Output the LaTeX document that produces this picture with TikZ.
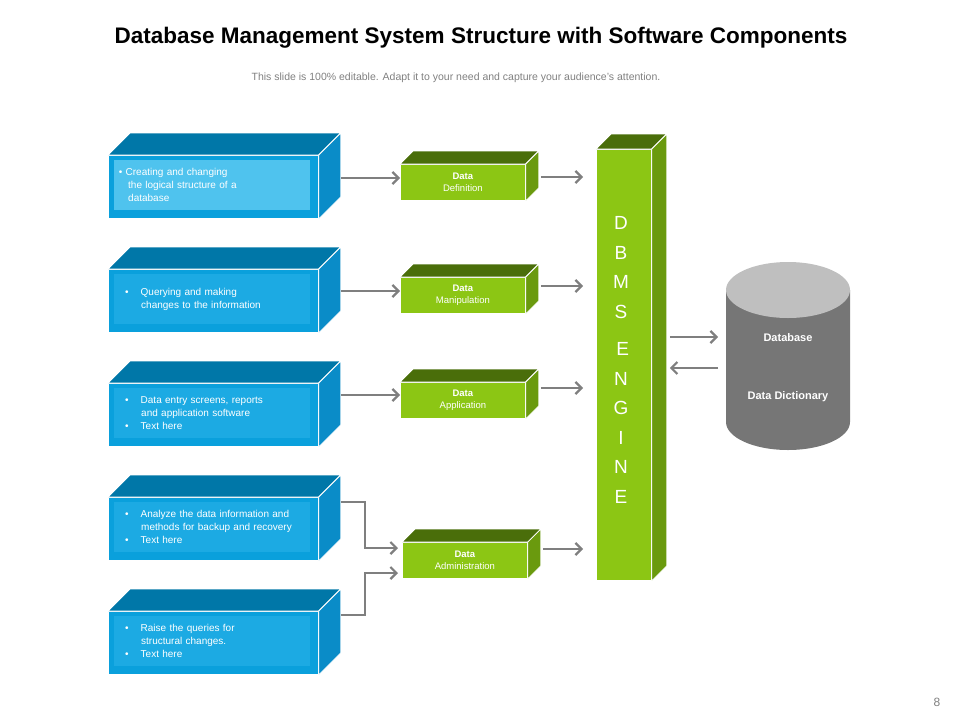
\documentclass[tikz,border=0pt]{standalone}
\usepackage{fontspec}
\setmainfont{Liberation Sans}
\usetikzlibrary{positioning,arrows.meta}
\definecolor{bluefront}{HTML}{0AA0DC}
\definecolor{bluetop}{HTML}{0077A8}
\definecolor{blueside}{HTML}{0A8CC8}
\definecolor{bluepanel}{HTML}{1CAAE3}
\definecolor{lightpanel}{HTML}{4FC3EE}
\definecolor{greenfront}{HTML}{8CC614}
\definecolor{greentop}{HTML}{4A6E0A}
\definecolor{greenside}{HTML}{6A9A0E}
\definecolor{arrowgray}{HTML}{7F7F7F}
\definecolor{cylgray}{HTML}{767676}
\definecolor{captop}{HTML}{BFBFBF}
\tikzset{
  bluebox/.style={draw=white, line width=0.8pt, fill=bluefront, minimum width=210, minimum height=63, inner sep=0, anchor=north west},
  panel/.style={fill=bluepanel, minimum width=196, minimum height=50, inner sep=0, text width=190, align=left, text=white, font=\fontsize{10}{13}\selectfont},
  greenbox/.style={draw=white, line width=0.8pt, fill=greenfront, minimum width=125, minimum height=36, inner sep=0, anchor=north west, text=white, align=center, font=\fontsize{9.5}{12}\selectfont},
  flow/.style={draw=arrowgray, line width=2.2pt, -{Straight Barb[length=6pt,width=12pt]}},
}
% top and right faces of a box
\newcommand{\faces}[4]{%
  \fill[#3, draw=white, line width=0.8pt] (#1.north west) -- ++(#2,-#2) -- ([shift={(#2,-#2)}]#1.north east) -- (#1.north east) -- cycle;
  \fill[#4, draw=white, line width=0.8pt] (#1.north east) -- ++(#2,-#2) -- ([shift={(#2,-#2)}]#1.south east) -- (#1.south east) -- cycle;
}
\begin{document}
\begin{tikzpicture}[x=1pt,y=-1pt]
\useasboundingbox (0,0) rectangle (960,720);

% Title
\node (title) at (481,38) {\fontsize{22.5}{26}\selectfont\bfseries Database Management System Structure with Software Components};
\node[text=gray, font=\fontsize{10.5}{12}\selectfont] (sub) at (456,78) {This slide is 100\% editable. Adapt it to your need and capture your audience’s attention.};
\node[text=gray, font=\fontsize{12}{14}\selectfont] (page) at (937,702) {8};

% Blue boxes
\node[bluebox] (b1) at (108,155) {};
\node[bluebox] (b2) at (108,269) {};
\node[bluebox] (b3) at (108,383) {};
\node[bluebox] (b4) at (108,497) {};
\node[bluebox] (b5) at (108,611) {};
\foreach \b in {b1,b2,b3,b4,b5}{\faces{\b}{22}{bluetop}{blueside}}
\node[panel, fill=lightpanel, anchor=north west] (p1) at (114,160) {\,• Creating and changing\\\hspace{1.1em}the logical structure of a\\\hspace{1.1em}database};
\node[panel, anchor=north west] (p2) at (114,274) {\hspace{0.8em}•\hspace{1.2em}Querying and making\\\hspace{2.4em}changes to the information};
\node[panel, anchor=north west] (p3) at (114,388) {\hspace{0.8em}•\hspace{1.2em}Data entry screens, reports\\\hspace{2.4em}and application software\\\hspace{0.8em}•\hspace{1.2em}Text here};
\node[panel, anchor=north west] (p4) at (114,502) {\hspace{0.8em}•\hspace{1.2em}Analyze the data information and\\\hspace{2.4em}methods for backup and recovery\\\hspace{0.8em}•\hspace{1.2em}Text here};
\node[panel, anchor=north west] (p5) at (114,616) {\hspace{0.8em}•\hspace{1.2em}Raise the queries for\\\hspace{2.4em}structural changes.\\\hspace{0.8em}•\hspace{1.2em}Text here};

% Green boxes
\node[greenbox] (g1) at (400,164) {\textbf{Data}\\Definition};
\node[greenbox] (g2) at (400,277) {\textbf{Data}\\Manipulation};
\node[greenbox] (g3) at (400,382) {\textbf{Data}\\Application};
\node[greenbox] (g4) at (402,542) {\textbf{Data}\\Administration};
\foreach \g in {g1,g2,g3,g4}{\faces{\g}{13}{greentop}{greenside}}

% DBMS engine
\node[greenbox, minimum width=55, minimum height=431] (eng) at (596,149) {};
\faces{eng}{15}{greentop}{greenside}
\node[text=white, font=\fontsize{19}{29.5}\selectfont, align=center] (engtxt) at (621,360) {D\\B\\M\\S\\[0.4em]\,E\\N\\G\\I\\N\\E};

% Database cylinder
\fill[cylgray] (726,290) -- (726,422) arc[start angle=180, end angle=360, x radius=62, y radius=-28] -- (850,290) -- cycle;
\fill[captop] (788,290) ellipse[x radius=62, y radius=28];
\coordinate (db) at (726,350);
\node[text=white, font=\fontsize{11}{13}\selectfont\bfseries] (dbl) at (788,338) {Database};
\node[text=white, font=\fontsize{11}{13}\selectfont\bfseries] (ddl) at (788,397) {Data Dictionary};

% Connectors
\coordinate (e1) at (583,177);
\coordinate (e2) at (583,286);
\coordinate (e3) at (583,388);
\coordinate (e4) at (583,549);
\draw[flow] ([xshift=22]b1.east |- 0,178) -- (g1.west |- 0,178);
\draw[flow] ([xshift=22]b2.east |- 0,291) -- (g2.west |- 0,291);
\draw[flow] ([xshift=22]b3.east |- 0,395) -- (g3.west |- 0,395);
\draw[flow] ([xshift=22]b4.east |- 0,502) -- (365,502) |- ([xshift=-4]g4.west |- 0,548);
\draw[flow] ([xshift=22]b5.east |- 0,615) -- (365,615) |- ([xshift=-4]g4.west |- 0,573);
\draw[flow] ([xshift=15]g1.east |- e1) -- (e1);
\draw[flow] ([xshift=15]g2.east |- e2) -- (e2);
\draw[flow] ([xshift=15]g3.east |- e3) -- (e3);
\draw[flow] ([xshift=15]g4.east |- e4) -- (e4);
\draw[flow] ([xshift=18]eng.east |- 0,337) -- ([xshift=-8]db |- 0,337);
\draw[flow] ([xshift=-8]db |- 0,368) -- ([xshift=18]eng.east |- 0,368);
\end{tikzpicture}
\end{document}
